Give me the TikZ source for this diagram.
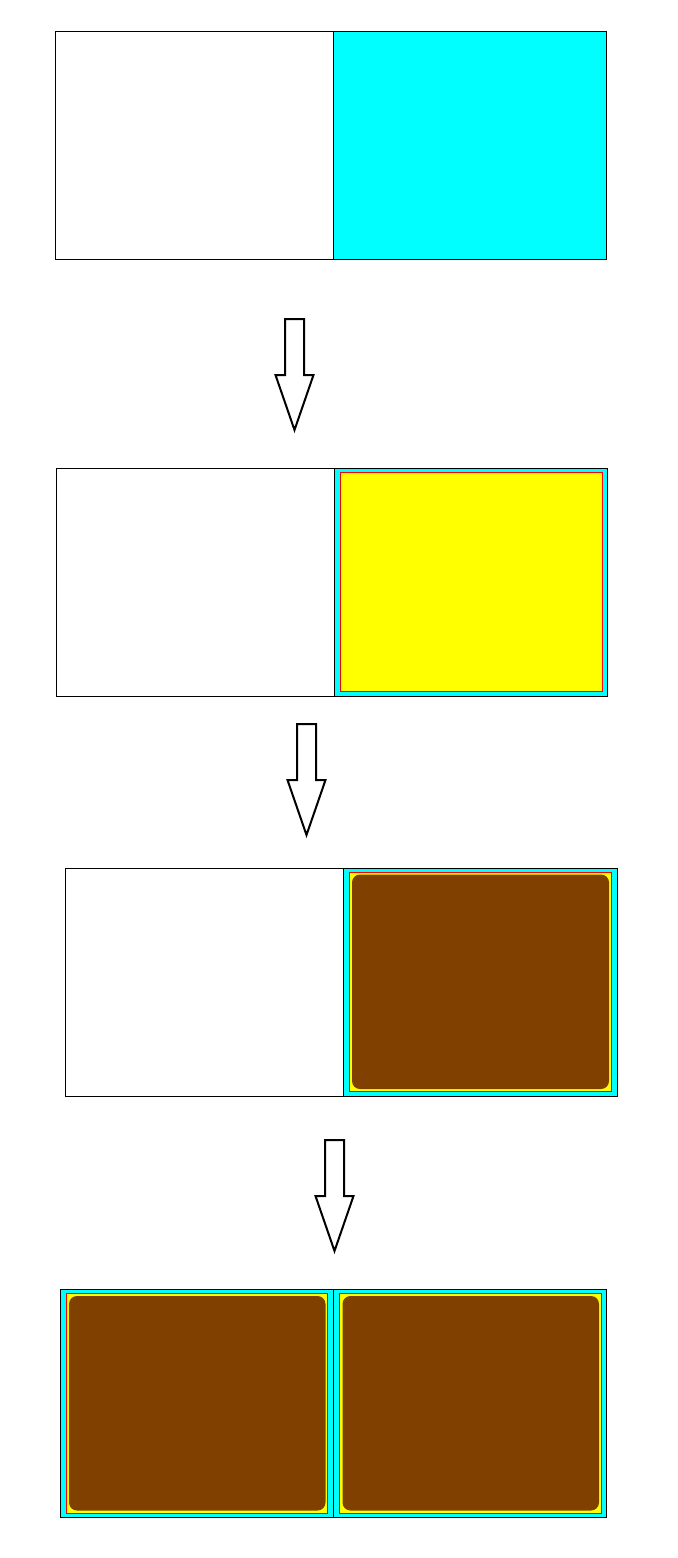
\documentclass[tikz,border=0pt]{standalone}
\definecolor{earth}{RGB}{128,64,0}
\definecolor{aqua}{RGB}{0,255,255}
\definecolor{lemon}{RGB}{255,255,0}
\definecolor{seam}{RGB}{255,0,0}
\begin{document}
\begin{tikzpicture}
  [x=0.5pt,y=-0.5pt,line join=miter]
  \tikzstyle{frame} = [draw=black,line width=0.5pt]
  \tikzstyle{water} = [fill=aqua]
  \tikzstyle{liner} = [fill=lemon,draw=seam,line width=0.5pt]
  \tikzstyle{soil} = [fill=earth,rounded corners=4pt]
  \tikzstyle{flow} = [draw=black,fill=white,line width=1pt]
  \useasboundingbox (0,0) rectangle (677,1558);

  % step 1
  \fill[water] (333,31) rectangle (606,259);
  \draw[frame] (55,31) rectangle (606,259) (333,31) -- (333,259);

  % step 2
  \fill[water] (334,468) rectangle (607,696);
  \draw[liner] (340,472.5) rectangle (602,691.5);
  \draw[frame] (56,468) rectangle (607,696) (334,468) -- (334,696);

  % step 3
  \fill[water] (343,868) rectangle (617,1096);
  \draw[liner] (349,872) rectangle (611,1091);
  \fill[soil] (352,874.5) rectangle (609,1089);
  \draw[frame] (65,868) rectangle (617,1096) (343,868) -- (343,1096);

  % step 4
  \fill[water] (60,1289) rectangle (606,1517);
  \foreach \l/\r in {66/327.5,339.5/601} {
    \draw[liner] (\l,1293) rectangle (\r,1513);
    \fill[soil] (\l+3,1296) rectangle (\r-2,1510.5);
  }
  \draw[frame] (60,1289) rectangle (606,1517) (333,1289) -- (333,1517);

 \foreach \x /\y in {294.5/319,306.5/724,334.5/1140}
   \draw[flow] (\x-9.5,\y) -- (\x+9.5,\y) -- (\x+9.5,\y+56) -- (\x+19,\y+56)
     -- (\x,\y+111) -- (\x-19,\y+56) -- (\x-9.5,\y+56) -- cycle;

\end{tikzpicture}
\end{document}
